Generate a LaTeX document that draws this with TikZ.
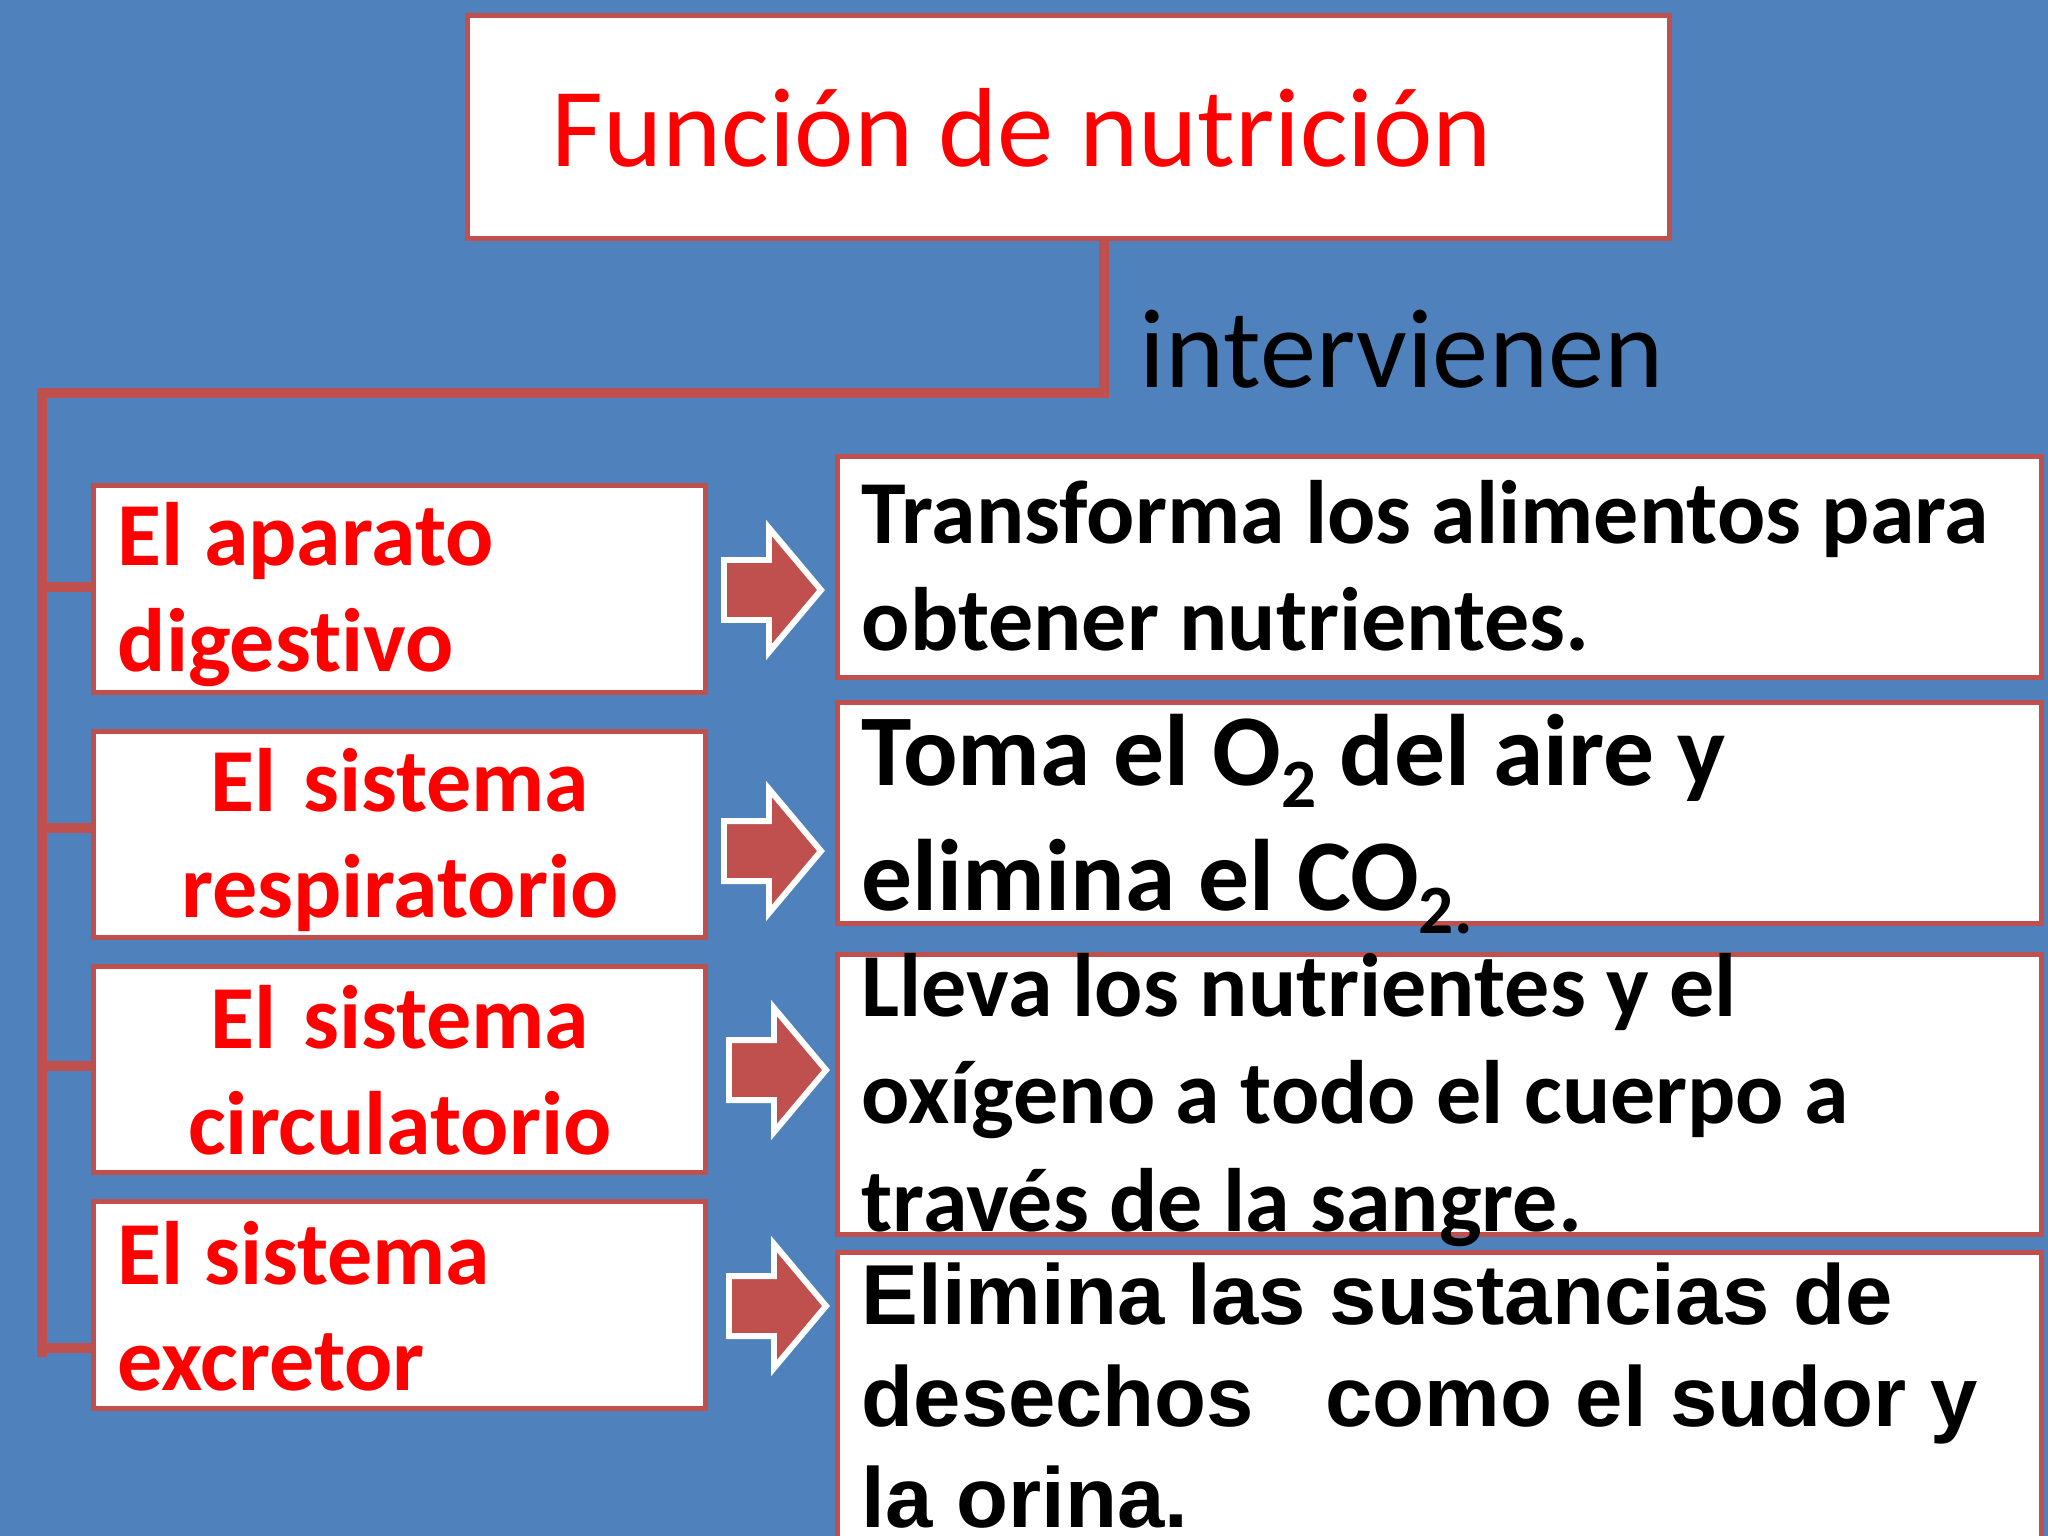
\documentclass[tikz,border=0pt]{standalone}
\usepackage{fontspec}
\setmainfont{Carlito}[Ligatures=NoCommon]
\newfontfamily\arialfont{Liberation Sans}
\definecolor{fondo}{HTML}{4F81BD}
\definecolor{borde}{HTML}{C0504D}
\definecolor{rojo}{HTML}{FF0000}
\newcommand\subind[1]{\raisebox{-6.5pt}{\fontsize{19.7}{19.7}\selectfont #1}}
\tikzset{
  caja/.style={draw=borde, fill=white, line width=1.4pt, inner sep=0pt},
  linea/.style={draw=borde, line width=2.85pt},
  sombra/.style={draw=fondo!55!black, line width=2.85pt, opacity=0.5, shift={(3,5)}},
  flecha/.style={fill=borde, draw=white, line width=1.7pt, line join=miter},
  texto/.style={inner sep=0pt, execute at begin node={\spaceskip=0pt\xspaceskip=0pt\relax}},
  organo/.style={texto, text=rojo, font=\fontsize{25.6}{30.4}\selectfont\bfseries, text width=5.9cm},
  funcion/.style={texto, text=black, font=\fontsize{25.6}{30.7}\selectfont\bfseries, text width=11.8cm, align=left, anchor=base west},
}
\begin{document}
\begin{tikzpicture}[x=0.01cm, y=-0.01cm]
        %% background
        \fill[fondo] (0,0) rectangle (2048,1536);
        \useasboundingbox (0,0) rectangle (2048,1536);
        %% title
        \node[caja, minimum width=12.01cm, minimum height=2.22cm] (titulo) at (1068.5,127) {};
        \node[texto, anchor=base west, text=rojo, font=\fontsize{32}{38}\selectfont] (t-titulo) at (551,166) {Función de nutrición};
        %% organs
        \node[caja, minimum width=6.11cm, minimum height=2.06cm] (caja-dig) at (399.5,589) {};
        \node[caja, minimum width=6.11cm, minimum height=2.06cm] (caja-resp) at (399.5,834.5) {};
        \node[caja, minimum width=6.11cm, minimum height=2.06cm] (caja-circ) at (399.5,1069.5) {};
        \node[caja, minimum width=6.11cm, minimum height=2.06cm] (caja-exc) at (399.5,1305) {};
        \node[organo, anchor=base west, align=left] (t-dig) at (117,565) {El aparato\\digestivo};
        \node[organo, anchor=base, align=center] (t-resp) at (400,811) {El sistema\\respiratorio};
        \node[organo, anchor=base, align=center] (t-circ) at (400,1048) {El sistema\\circulatorio};
        \node[organo, anchor=base west, align=left] (t-exc) at (117,1284) {El sistema\\excretor};
        %% functions
        \node[caja, minimum width=12.03cm, minimum height=2.2cm] (fun-dig) at (1439.5,567) {};
        \node[caja, minimum width=12.03cm, minimum height=2.2cm] (fun-resp) at (1439.5,813) {};
        \node[caja, minimum width=12.03cm, minimum height=2.79cm] (fun-circ) at (1439.5,1094.5) {};
        \node[caja, minimum width=12.03cm, minimum height=2.92cm] (fun-exc) at (1439.5,1399) {};
        \node[funcion] (t-fdig) at (861,543) {Transforma los alimentos para\\obtener nutrientes.};
        \node[funcion, font=\fontsize{28.9}{35.6}\selectfont\bfseries] (t-fresp) at (861,785)
            {Toma el O\subind{2} del aire y\\elimina el CO\subind{2.}};
        \node[funcion] (t-fcirc) at (861,1016) {Lleva los nutrientes y el\\oxígeno a todo el cuerpo a\\través de la sangre.};
        \node[funcion, font=\fontsize{24.2}{29}\selectfont\arialfont\bfseries] (t-fexc) at (861,1324)
            {Elimina las sustancias de\\desechos\ \ \ como el sudor y\\la orina.};
        %% connectors
        \coordinate (codo) at (1104,393);
        \coordinate (tronco) at (42,393);
        \coordinate (pie) at (42,1357);
        \node[texto, anchor=base west, font=\fontsize{32}{38}\selectfont] (intervienen) at (1139,387) {intervienen};
        \draw[sombra] (titulo.south -| codo) -- (codo) -- (tronco) -- (pie);
        \draw[linea] (titulo.south -| codo) -- (codo) -- (tronco) -- (pie);
        \foreach \c/\y in {dig/587, resp/828, circ/1066, exc/1348}
            \draw[linea] (tronco |- 0,\y) -- (caja-\c.west |- 0,\y);
        %% arrows
        \foreach \x/\y in {724/590, 724/851, 729/1070, 729/1306}
            \draw[flecha] (\x,\y-30) -- ++(45,0) -- ++(0,-32) -- ++(52,62) -- ++(-52,62) -- ++(0,-32) -- ++(-45,0) -- cycle;
\end{tikzpicture}
\end{document}
